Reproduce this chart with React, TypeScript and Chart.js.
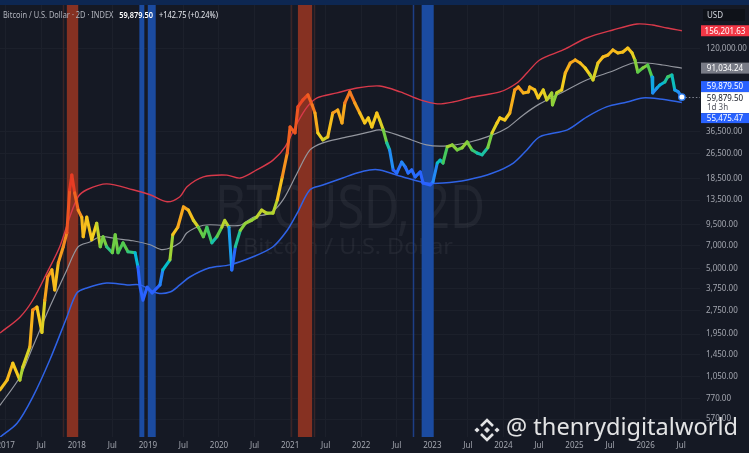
import React, { useEffect, useRef } from 'react';
import Chart from 'chart.js/auto';

// price, 2D closes (decimal years)
const priceYears = [
  2016.92, 2017.02, 2017.10, 2017.20, 2017.24, 2017.34, 2017.38, 2017.44, 2017.51, 2017.55,
  2017.59, 2017.65, 2017.69, 2017.74, 2017.81, 2017.86, 2017.90, 2017.93, 2017.97, 2018.02,
  2018.07, 2018.09, 2018.14, 2018.21, 2018.28, 2018.33, 2018.37, 2018.42, 2018.50, 2018.54,
  2018.58, 2018.65, 2018.72, 2018.82, 2018.86, 2018.89, 2018.93, 2018.99, 2019.06, 2019.10,
  2019.17, 2019.21, 2019.31, 2019.35, 2019.42, 2019.50, 2019.57, 2019.64, 2019.71, 2019.78,
  2019.83, 2019.90, 2019.97, 2020.04, 2020.08, 2020.14, 2020.18, 2020.23, 2020.30, 2020.37,
  2020.46, 2020.53, 2020.60, 2020.67, 2020.76, 2020.82, 2020.89, 2020.96, 2021.00, 2021.07,
  2021.11, 2021.18, 2021.25, 2021.31, 2021.35, 2021.39, 2021.46, 2021.53, 2021.60, 2021.67,
  2021.73, 2021.77, 2021.84, 2021.91, 2021.98, 2022.05, 2022.10, 2022.15, 2022.22, 2022.26,
  2022.31, 2022.36, 2022.40, 2022.45, 2022.50, 2022.57, 2022.62, 2022.66, 2022.71, 2022.76,
  2022.83, 2022.87, 2022.97, 2023.01, 2023.07, 2023.11, 2023.15, 2023.21, 2023.28, 2023.35,
  2023.42, 2023.49, 2023.56, 2023.63, 2023.70, 2023.78, 2023.84, 2023.91, 2023.95, 2024.02,
  2024.09, 2024.16, 2024.21, 2024.28, 2024.35, 2024.37, 2024.44, 2024.49, 2024.56, 2024.61,
  2024.68, 2024.69, 2024.75, 2024.82, 2024.87, 2024.94, 2025.01, 2025.08, 2025.15, 2025.22,
  2025.26, 2025.33, 2025.40, 2025.47, 2025.54, 2025.61, 2025.68, 2025.75, 2025.81, 2025.85,
  2025.89, 2025.96, 2026.03, 2026.09, 2026.10, 2026.16, 2026.20, 2026.27, 2026.31, 2026.37,
  2026.41, 2026.46, 2026.51,
];
const priceValues = [
  870, 1004, 1280, 1004, 1210, 1620, 2760, 2880, 2000, 3180,
  4450, 4930, 3690, 5460, 6890, 8430, 15700, 19400, 15000, 11700,
  10560, 7960, 10560, 7620, 9670, 6890, 7960, 6890, 6320, 8200,
  6320, 7290, 6410, 6320, 5150, 3850, 3180, 3850, 3530, 3690,
  3970, 4930, 5700, 8200, 9130, 12250, 11700, 10100, 9130, 7960,
  9130, 7290, 7960, 9130, 10100, 9130, 4930, 6890, 8740, 9670,
  10100, 10560, 11700, 11200, 11200, 13560, 18900, 26700, 38900, 35700,
  52000, 57500, 61800, 53500, 47600, 35700, 32300, 33700, 47600, 49700,
  41200, 55000, 64500, 55000, 47600, 41200, 44300, 38900, 47600, 43000,
  37300, 30900, 27900, 20900, 20000, 23400, 21800, 20000, 20900, 18900,
  20300, 17300, 16800, 17600, 23100, 24100, 23100, 29200, 30000, 27900,
  28800, 31300, 27900, 26700, 26000, 28800, 35700, 41200, 44300, 43000,
  47600, 66400, 69300, 63600, 64500, 69300, 66400, 59200, 66400, 57500,
  63600, 53500, 63600, 66400, 84800, 98000, 102400, 98000, 91200, 82400,
  76700, 98000, 106900, 110000, 118300, 113300, 114900, 121700, 113300, 102400,
  86000, 91200, 95200, 80100, 63600, 68300, 71300, 74500, 80100, 82400,
  66400, 64500, 59879.5,
];

// upper (red) band
const upperYears = [
  2016.92, 2017.20, 2017.38, 2017.58, 2017.76, 2017.90, 2018.02, 2018.14, 2018.42, 2018.79,
  2019.03, 2019.27, 2019.45, 2019.55, 2019.78, 2020.11, 2020.30, 2020.53, 2020.76, 2020.93,
  2021.10, 2021.24, 2021.38, 2021.66, 2021.94, 2022.26, 2022.55, 2022.83, 2023.07, 2023.29,
  2023.57, 2023.95, 2024.19, 2024.33, 2024.51, 2024.84, 2025.17, 2025.54, 2025.88, 2026.10,
  2026.30, 2026.51,
];
const upperValues = [
  1980, 2490, 3180, 4720, 6890, 10560, 14200, 15700, 17100, 15700,
  14600, 13200, 14200, 16400, 18900, 19400, 18600, 20900, 24100, 29200,
  41200, 52000, 59200, 63600, 68300, 70300, 64500, 57500, 54300, 55800,
  60000, 64500, 73400, 84800, 102400, 118300, 140700, 157900, 172200, 169700,
  162500, 156201.63,
];

// middle (grey) band
const midYears = [
  2016.92, 2017.20, 2017.38, 2017.62, 2017.86, 2018.02, 2018.19, 2018.33, 2018.57, 2018.79,
  2019.03, 2019.21, 2019.45, 2019.55, 2019.78, 2020.06, 2020.30, 2020.48, 2020.72, 2020.90,
  2021.10, 2021.28, 2021.46, 2021.74, 2021.94, 2022.12, 2022.26, 2022.59, 2022.92, 2023.21,
  2023.53, 2023.81, 2024.05, 2024.28, 2024.51, 2024.84, 2025.17, 2025.50, 2025.82, 2026.02,
  2026.24, 2026.51,
];
const midValues = [
  697, 1049, 1620, 2880, 4930, 6890, 7400, 7960, 7730, 7510,
  7090, 6600, 7290, 8430, 9400, 9400, 9400, 10560, 11200, 13560,
  20000, 27900, 30900, 33200, 34700, 36200, 37300, 33700, 30000, 29600,
  31300, 34200, 38300, 46300, 54300, 64500, 76700, 86000, 98000, 98000,
  95200, 91034.24,
];

// lower (blue) band
const lowerYears = [
  2016.92, 2017.16, 2017.38, 2017.62, 2017.86, 2018.00, 2018.14, 2018.42, 2018.71, 2018.89,
  2019.13, 2019.31, 2019.45, 2019.59, 2019.87, 2020.15, 2020.48, 2020.76, 2020.96, 2021.10,
  2021.28, 2021.46, 2021.74, 2021.94, 2022.12, 2022.26, 2022.59, 2022.92, 2023.15, 2023.49,
  2023.85, 2024.14, 2024.33, 2024.51, 2024.90, 2025.17, 2025.45, 2025.74, 2025.96, 2026.20,
  2026.51,
];
const lowerValues = [
  440, 537, 784, 1340, 2490, 3530, 3800, 4080, 3970, 3970,
  3530, 3580, 3970, 4450, 5080, 5300, 5960, 6890, 8740, 11200,
  15700, 16800, 18600, 20000, 20900, 20900, 18900, 17300, 17300, 18100,
  20000, 23100, 27900, 33700, 37300, 44900, 52000, 55800, 59200, 58300,
  55475.47,
];

// highlighted periods
const redZones = [[2017.86, 2018.02], [2021.11, 2021.31]];
const blueZones = [[2018.88, 2018.95], [2019.0, 2019.11], [2022.85, 2023.02]];
const redEdges = [2017.81, 2021.01, 2021.33];
const blueEdges = [2022.73];

const timeTicks = [
  2017, 2017.5, 2018, 2018.5, 2019, 2019.5, 2020, 2020.5, 2021, 2021.5,
  2022, 2022.5, 2023, 2023.5, 2024, 2024.5, 2025, 2025.5, 2026, 2026.5,
];
const priceTicks = [570, 770, 1050, 1450, 1950, 2750, 3750, 5000, 7000, 9500, 13500, 18500, 26500, 36500, 120000];

const change = 142.75;
const changePct = 0.24;
const countdown = '1d 3h';

const BG = '#151924';
const GRID = '#1c202b';
const FONT = '"Noto Sans", sans-serif';

const fmt = (v: number) =>
  v.toLocaleString('en-US', { minimumFractionDigits: 2, maximumFractionDigits: 2 });

function logInterp(xs: number[], ys: number[], x: number) {
  if (x <= xs[0]) return ys[0];
  for (let i = 1; i < xs.length; i++) {
    if (x <= xs[i]) {
      const t = (x - xs[i - 1]) / (xs[i] - xs[i - 1]);
      return Math.exp(Math.log(ys[i - 1]) * (1 - t) + Math.log(ys[i]) * t);
    }
  }
  return ys[ys.length - 1];
}

// colour of the price line by distance from the grey band (log ratio)
const heatStops: [number, number[]][] = [
  [-0.5, [41, 98, 255]],
  [-0.36, [33, 150, 243]],
  [-0.25, [0, 188, 212]],
  [-0.12, [76, 201, 80]],
  [0.0, [170, 212, 50]],
  [0.12, [245, 208, 30]],
  [0.3, [247, 180, 28]],
  [0.55, [245, 124, 32]],
  [0.85, [236, 76, 34]],
  [1.1, [229, 57, 36]],
];

function heat(r: number) {
  if (r <= heatStops[0][0]) return `rgb(${heatStops[0][1].join(',')})`;
  for (let i = 1; i < heatStops.length; i++) {
    const [r1, c1] = heatStops[i];
    if (r <= r1) {
      const [r0, c0] = heatStops[i - 1];
      const t = (r - r0) / (r1 - r0);
      const c = c0.map((v, k) => Math.round(v + (c1[k] - v) * t));
      return `rgb(${c.join(',')})`;
    }
  }
  return `rgb(${heatStops[heatStops.length - 1][1].join(',')})`;
}

const pts = (xs: number[], ys: number[]) => xs.map((x, i) => ({ x, y: ys[i] }));

function fitText(ctx: CanvasRenderingContext2D, text: string, x: number, y: number, w: number) {
  const m = ctx.measureText(text).width;
  ctx.save();
  ctx.translate(x, y);
  ctx.scale(w / m, 1);
  ctx.fillText(text, 0, 0);
  ctx.restore();
}

const decor = {
  id: 'decor',
  beforeDraw(chart: any) {
    const { ctx, width, height } = chart;
    ctx.save();
    ctx.fillStyle = BG;
    ctx.fillRect(0, 0, width, height);
    ctx.fillStyle = '#0d2752';
    ctx.fillRect(0, 0, width, 5);
    ctx.restore();
  },
  beforeDatasetsDraw(chart: any) {
    const { ctx, chartArea: a, scales } = chart;
    const x = scales.x;
    ctx.save();
    ctx.beginPath();
    ctx.rect(a.left, a.top, a.right - a.left, a.bottom - a.top);
    ctx.clip();

    ctx.fillStyle = 'rgba(255,255,255,0.055)';
    ctx.textBaseline = 'alphabetic';
    ctx.textAlign = 'left';
    ctx.font = `60px ${FONT}`;
    fitText(ctx, 'BTCUSD, 2D', 215, 228, 270);
    ctx.font = `22px ${FONT}`;
    fitText(ctx, 'Bitcoin / U.S. Dollar', 243, 254, 210);

    const band = (zones: number[][], color: string) => {
      ctx.fillStyle = color;
      zones.forEach(([s, e]) => {
        const x0 = x.getPixelForValue(s);
        const x1 = x.getPixelForValue(e);
        ctx.fillRect(x0, a.top, x1 - x0, a.bottom - a.top);
      });
    };
    band(redZones, '#863122');
    band(blueZones, '#1b4ba0');
    const edges = (list: number[], color: string) => {
      ctx.strokeStyle = color;
      ctx.lineWidth = 1.5;
      list.forEach((v) => {
        const px = Math.round(x.getPixelForValue(v)) + 0.5;
        ctx.beginPath();
        ctx.moveTo(px, a.top);
        ctx.lineTo(px, a.bottom);
        ctx.stroke();
      });
    };
    edges(redEdges, '#3a2426');
    edges(blueEdges, '#1d3f86');
    ctx.restore();
  },
  afterDatasetsDraw(chart: any) {
    const { ctx, chartArea: a, scales } = chart;
    const lx = scales.x.getPixelForValue(priceYears[priceYears.length - 1]);
    const ly = scales.y.getPixelForValue(priceValues[priceValues.length - 1]);
    ctx.save();
    ctx.strokeStyle = 'rgba(170,174,185,0.75)';
    ctx.lineWidth = 1;
    ctx.setLineDash([1.5, 2]);
    ctx.beginPath();
    ctx.moveTo(lx, Math.round(ly) + 0.5);
    ctx.lineTo(a.right, Math.round(ly) + 0.5);
    ctx.stroke();
    ctx.setLineDash([]);
    ctx.beginPath();
    ctx.arc(lx, ly, 3.2, 0, Math.PI * 2);
    ctx.fillStyle = '#ffffff';
    ctx.fill();
    ctx.strokeStyle = '#2b7bf0';
    ctx.lineWidth = 1.4;
    ctx.stroke();
    ctx.restore();
  },
  afterDraw(chart: any) {
    const { ctx, chartArea: a, scales, width } = chart;
    const y = scales.y;
    const left = a.right + 1;
    const w = width - left;
    const cx = left + w / 2;
    ctx.save();
    ctx.textBaseline = 'middle';
    ctx.textAlign = 'center';
    ctx.font = `8px ${FONT}`;

    const box = (top: number, h: number, bg: string, fg: string, text: string) => {
      ctx.fillStyle = bg;
      ctx.fillRect(left, top, w, h);
      ctx.fillStyle = fg;
      ctx.fillText(text, cx, top + h / 2 + 0.5);
    };

    // currency tag
    ctx.fillStyle = '#0f1219';
    ctx.fillRect(703, 9, 42, 12);
    ctx.fillStyle = '#d1d4dc';
    ctx.textAlign = 'left';
    ctx.fillText('USD', 707, 15.5);
    ctx.textAlign = 'center';

    const last = (arr: number[]) => arr[arr.length - 1];
    const uy = y.getPixelForValue(last(upperValues));
    const my = y.getPixelForValue(last(midValues));
    const py = y.getPixelForValue(last(priceValues));
    box(uy - 5.5, 11, '#f23645', '#ffffff', fmt(last(upperValues)));
    box(my - 5.5, 11, '#787b86', '#ffffff', fmt(last(midValues)));
    box(py - 16, 11, '#2962ff', '#ffffff', fmt(last(priceValues)));
    ctx.fillStyle = '#ffffff';
    ctx.fillRect(left, py - 5, w, 21);
    ctx.fillStyle = '#131722';
    ctx.fillText(fmt(last(priceValues)), cx, py + 1.5);
    ctx.fillStyle = '#50535e';
    ctx.textAlign = 'left';
    ctx.fillText(countdown, left + 6, py + 11);
    ctx.textAlign = 'center';
    box(py + 16, 10, '#2962ff', '#ffffff', fmt(last(lowerValues)));

    // header line
    ctx.textAlign = 'left';
    const parts: [string, string, string][] = [
      ['Bitcoin / U.S. Dollar · 2D · INDEX', '#b2b5be', ''],
      [fmt(last(priceValues)), '#ffffff', '600 '],
      [`+${fmt(change)} (+${changePct.toFixed(2)}%)`, '#e6e8ee', ''],
    ];
    const gap = 7;
    let total = 0;
    const widths = parts.map(([t, , wgt]) => {
      ctx.font = `${wgt}9px ${FONT}`;
      const m = ctx.measureText(t).width;
      total += m;
      return m;
    });
    total += gap * (parts.length - 1);
    const sx = 215 / total;
    ctx.translate(3, 15);
    ctx.scale(sx, 1);
    let cur = 0;
    parts.forEach(([t, c, wgt], i) => {
      ctx.font = `${wgt}9px ${FONT}`;
      ctx.fillStyle = c;
      ctx.fillText(t, cur, 0);
      cur += widths[i] + gap;
    });
    ctx.setTransform(chart.currentDevicePixelRatio, 0, 0, chart.currentDevicePixelRatio, 0, 0);

    // author mark
    ctx.fillStyle = 'rgba(255,255,255,0.88)';
    ctx.strokeStyle = 'rgba(255,255,255,0.88)';
    ctx.font = `23px ${FONT}`;
    ctx.textBaseline = 'alphabetic';
    fitText(ctx, '@ thenrydigitalworld', 506, 435, 232);
    const diamond = (dx: number, dy: number, r: number) => {
      ctx.beginPath();
      ctx.moveTo(dx, dy - r);
      ctx.lineTo(dx + r, dy);
      ctx.lineTo(dx, dy + r);
      ctx.lineTo(dx - r, dy);
      ctx.closePath();
      ctx.fill();
    };
    diamond(487, 430, 3);
    diamond(477, 430, 2.6);
    diamond(497, 430, 2.6);
    ctx.lineWidth = 2.6;
    ctx.lineJoin = 'miter';
    ctx.beginPath();
    ctx.moveTo(481, 426);
    ctx.lineTo(487, 420);
    ctx.lineTo(493, 426);
    ctx.stroke();
    ctx.beginPath();
    ctx.moveTo(481, 434);
    ctx.lineTo(487, 440);
    ctx.lineTo(493, 434);
    ctx.stroke();
    ctx.restore();
  },
};

const App: React.FC = () => {
  const chartRef = useRef<HTMLCanvasElement>(null);

  useEffect(() => {
    if (!chartRef.current) return;
    const tickFont = { family: FONT, size: 8 };
    const chart = new Chart(chartRef.current, {
      type: 'line',
      data: {
        datasets: [
          {
            label: 'BTCUSD',
            data: pts(priceYears, priceValues),
            borderColor: '#f5d01e',
            borderWidth: 3.1,
            pointRadius: 0,
            borderJoinStyle: 'round',
            borderCapStyle: 'round',
            segment: {
              borderColor: (c: any) => {
                const x = (c.p0.parsed.x + c.p1.parsed.x) / 2;
                const p = Math.sqrt(c.p0.parsed.y * c.p1.parsed.y);
                return heat(Math.log(p / logInterp(midYears, midValues, x)));
              },
            },
          },
          {
            label: 'Upper',
            data: pts(upperYears, upperValues),
            borderColor: '#d8394a',
            borderWidth: 1.4,
            pointRadius: 0,
            tension: 0.3,
          },
          {
            label: 'Mid',
            data: pts(midYears, midValues),
            borderColor: '#93969e',
            borderWidth: 1.2,
            pointRadius: 0,
            tension: 0.3,
          },
          {
            label: 'Lower',
            data: pts(lowerYears, lowerValues),
            borderColor: '#2f63e6',
            borderWidth: 1.5,
            pointRadius: 0,
            tension: 0.3,
          },
        ],
      } as any,
      options: {
        responsive: false,
        animation: false,
        events: [],
        layout: { padding: { top: 5, left: 0, right: 0, bottom: 0 } },
        plugins: { legend: { display: false }, tooltip: { enabled: false } },
        scales: {
          x: {
            type: 'linear',
            min: 2016.92,
            max: 2026.765,
            afterBuildTicks: (s: any) => {
              s.ticks = timeTicks.map((v) => ({ value: v }));
            },
            afterFit: (s: any) => {
              s.height = 16;
              s.paddingLeft = 0;
              s.paddingRight = 0;
            },
            grid: { color: GRID, drawTicks: false },
            border: { display: false },
            ticks: {
              color: '#a3a6af',
              font: tickFont,
              padding: 4,
              maxRotation: 0,
              autoSkip: false,
              callback: (v: any) => (Number.isInteger(Number(v)) ? String(v) : 'Jul'),
            },
          },
          y: {
            type: 'logarithmic',
            position: 'right',
            min: 440.8,
            max: 226600,
            afterBuildTicks: (s: any) => {
              s.ticks = priceTicks.map((v) => ({ value: v }));
            },
            afterFit: (s: any) => {
              s.width = 49;
              s.paddingTop = 0;
              s.paddingBottom = 0;
            },
            grid: { color: GRID, drawTicks: false },
            border: { display: false },
            ticks: {
              color: '#a3a6af',
              font: tickFont,
              padding: 6,
              autoSkip: false,
              callback: (v: any) => fmt(Number(v)),
            },
          },
        },
      } as any,
      plugins: [decor],
    });
    return () => {
      chart.destroy();
    };
  }, []);

  return (
    <div style={{ position: 'fixed', left: 0, top: 0, width: 749, height: 453, background: BG }}>
      <canvas ref={chartRef} width={749} height={453} />
    </div>
  );
};

export default App;
